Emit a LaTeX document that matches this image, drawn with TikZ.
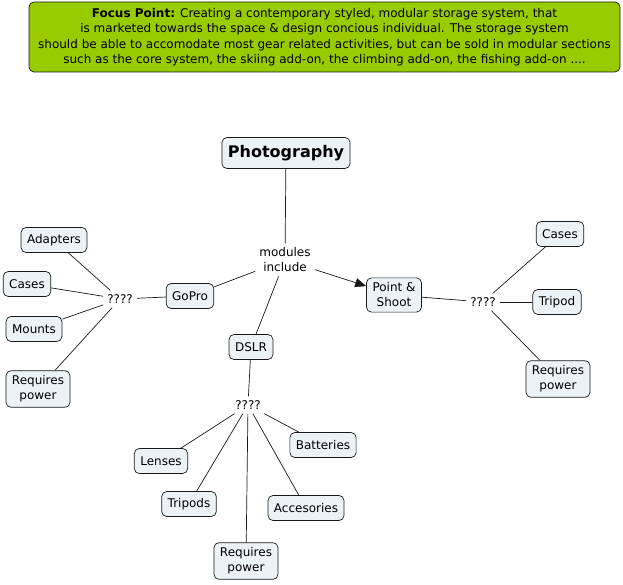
\documentclass[tikz,border=0pt]{standalone}
\usepackage{fontspec}
\setmainfont{DejaVu Sans}
\usepackage{xcolor}
\usetikzlibrary{arrows.meta}
\definecolor{conceptfill}{RGB}{236,243,246}
\definecolor{focusgreen}{RGB}{153,204,0}
\tikzset{
  concept/.style={
    rectangle, rounded corners=5pt, draw=black!90, fill=conceptfill,
    minimum height=25pt, font=\fontsize{12}{15}\selectfont,
    inner xsep=6pt, inner ysep=5pt, align=center, line width=0.7pt
  },
  linkword/.style={
    font=\fontsize{12}{15}\selectfont, inner sep=4pt, align=center
  },
  link/.style={draw=black!90, line width=0.7pt},
  linkarrow/.style={-{Triangle[length=11pt,width=9pt]}, draw=black!90, line width=0.7pt},
}

\begin{document}
\begin{tikzpicture}[x=1pt, y=-1pt]
    \useasboundingbox (0,0) rectangle (623,585);

    %% Focus question
    \node[draw=black!90, rounded corners=5pt, fill=focusgreen, line width=0.7pt,
          minimum width=591pt, minimum height=70pt, align=center,
          font=\fontsize{12}{15.5}\selectfont] (focus) at (324.5,37) {
      \textbf{Focus Point:} Creating a contemporary styled, modular storage system, that\\
      is marketed towards the space \& design concious individual. The storage system\\
      should be able to accomodate most gear related activities, but can be sold in modular sections\\
      such as the core system, the skiing add-on, the climbing add-on, the fishing add-on ....
    };

    %% Main concepts
    \node[concept, font=\fontsize{16}{18}\selectfont\bfseries, minimum height=31pt] (photo) at (286,153) {Photography};
    \node[linkword] (modules) at (285,260) {modules\\include};
    \node[concept] (gopro) at (190,296) {GoPro};
    \node[concept] (point) at (394,295) {Point \&\\Shoot};
    \node[concept] (dslr) at (251,347) {DSLR};

    %% GoPro branch
    \node[linkword] (qgopro) at (120,299) {????};
    \node[concept] (adapters) at (54,240) {Adapters};
    \node[concept] (casesl) at (27,284) {Cases};
    \node[concept] (mounts) at (34,329) {Mounts};
    \node[concept] (powerl) at (38,389) {Requires\\power};

    %% Point & Shoot branch
    \node[linkword] (qpoint) at (483,302) {????};
    \node[concept] (casesr) at (560,234) {Cases};
    \node[concept] (tripod) at (557,302) {Tripod};
    \node[concept] (powerr) at (558,379) {Requires\\power};

    %% DSLR branch
    \node[linkword] (qdslr) at (248,405) {????};
    \node[concept] (lenses) at (161,461) {Lenses};
    \node[concept] (batteries) at (323,445) {Batteries};
    \node[concept] (tripods) at (189,504) {Tripods};
    \node[concept] (accesories) at (306,508) {Accesories};
    \node[concept] (powerb) at (246,561) {Requires\\power};

    %% Connections
    \draw[link] (photo) -- (modules);
    \draw[link] (modules) -- (gopro);
    \draw[link] (modules) -- (dslr);
    \draw[linkarrow] (modules) -- (point);

    \draw[link] (gopro) -- (qgopro);
    \draw[link] (qgopro) -- (adapters);
    \draw[link] (qgopro) -- (casesl);
    \draw[link] (qgopro) -- (mounts);
    \draw[link] (qgopro) -- (powerl);

    \draw[link] (point) -- (qpoint);
    \draw[link] (qpoint) -- (casesr);
    \draw[link] (qpoint) -- (tripod);
    \draw[link] (qpoint) -- (powerr);

    \draw[link] (dslr) -- (qdslr);
    \draw[link] (qdslr) -- (lenses);
    \draw[link] (qdslr) -- (tripods);
    \draw[link] (qdslr) -- (powerb);
    \draw[link] (qdslr) -- (accesories);
    \draw[link] (qdslr) -- (batteries);

\end{tikzpicture}
\end{document}
